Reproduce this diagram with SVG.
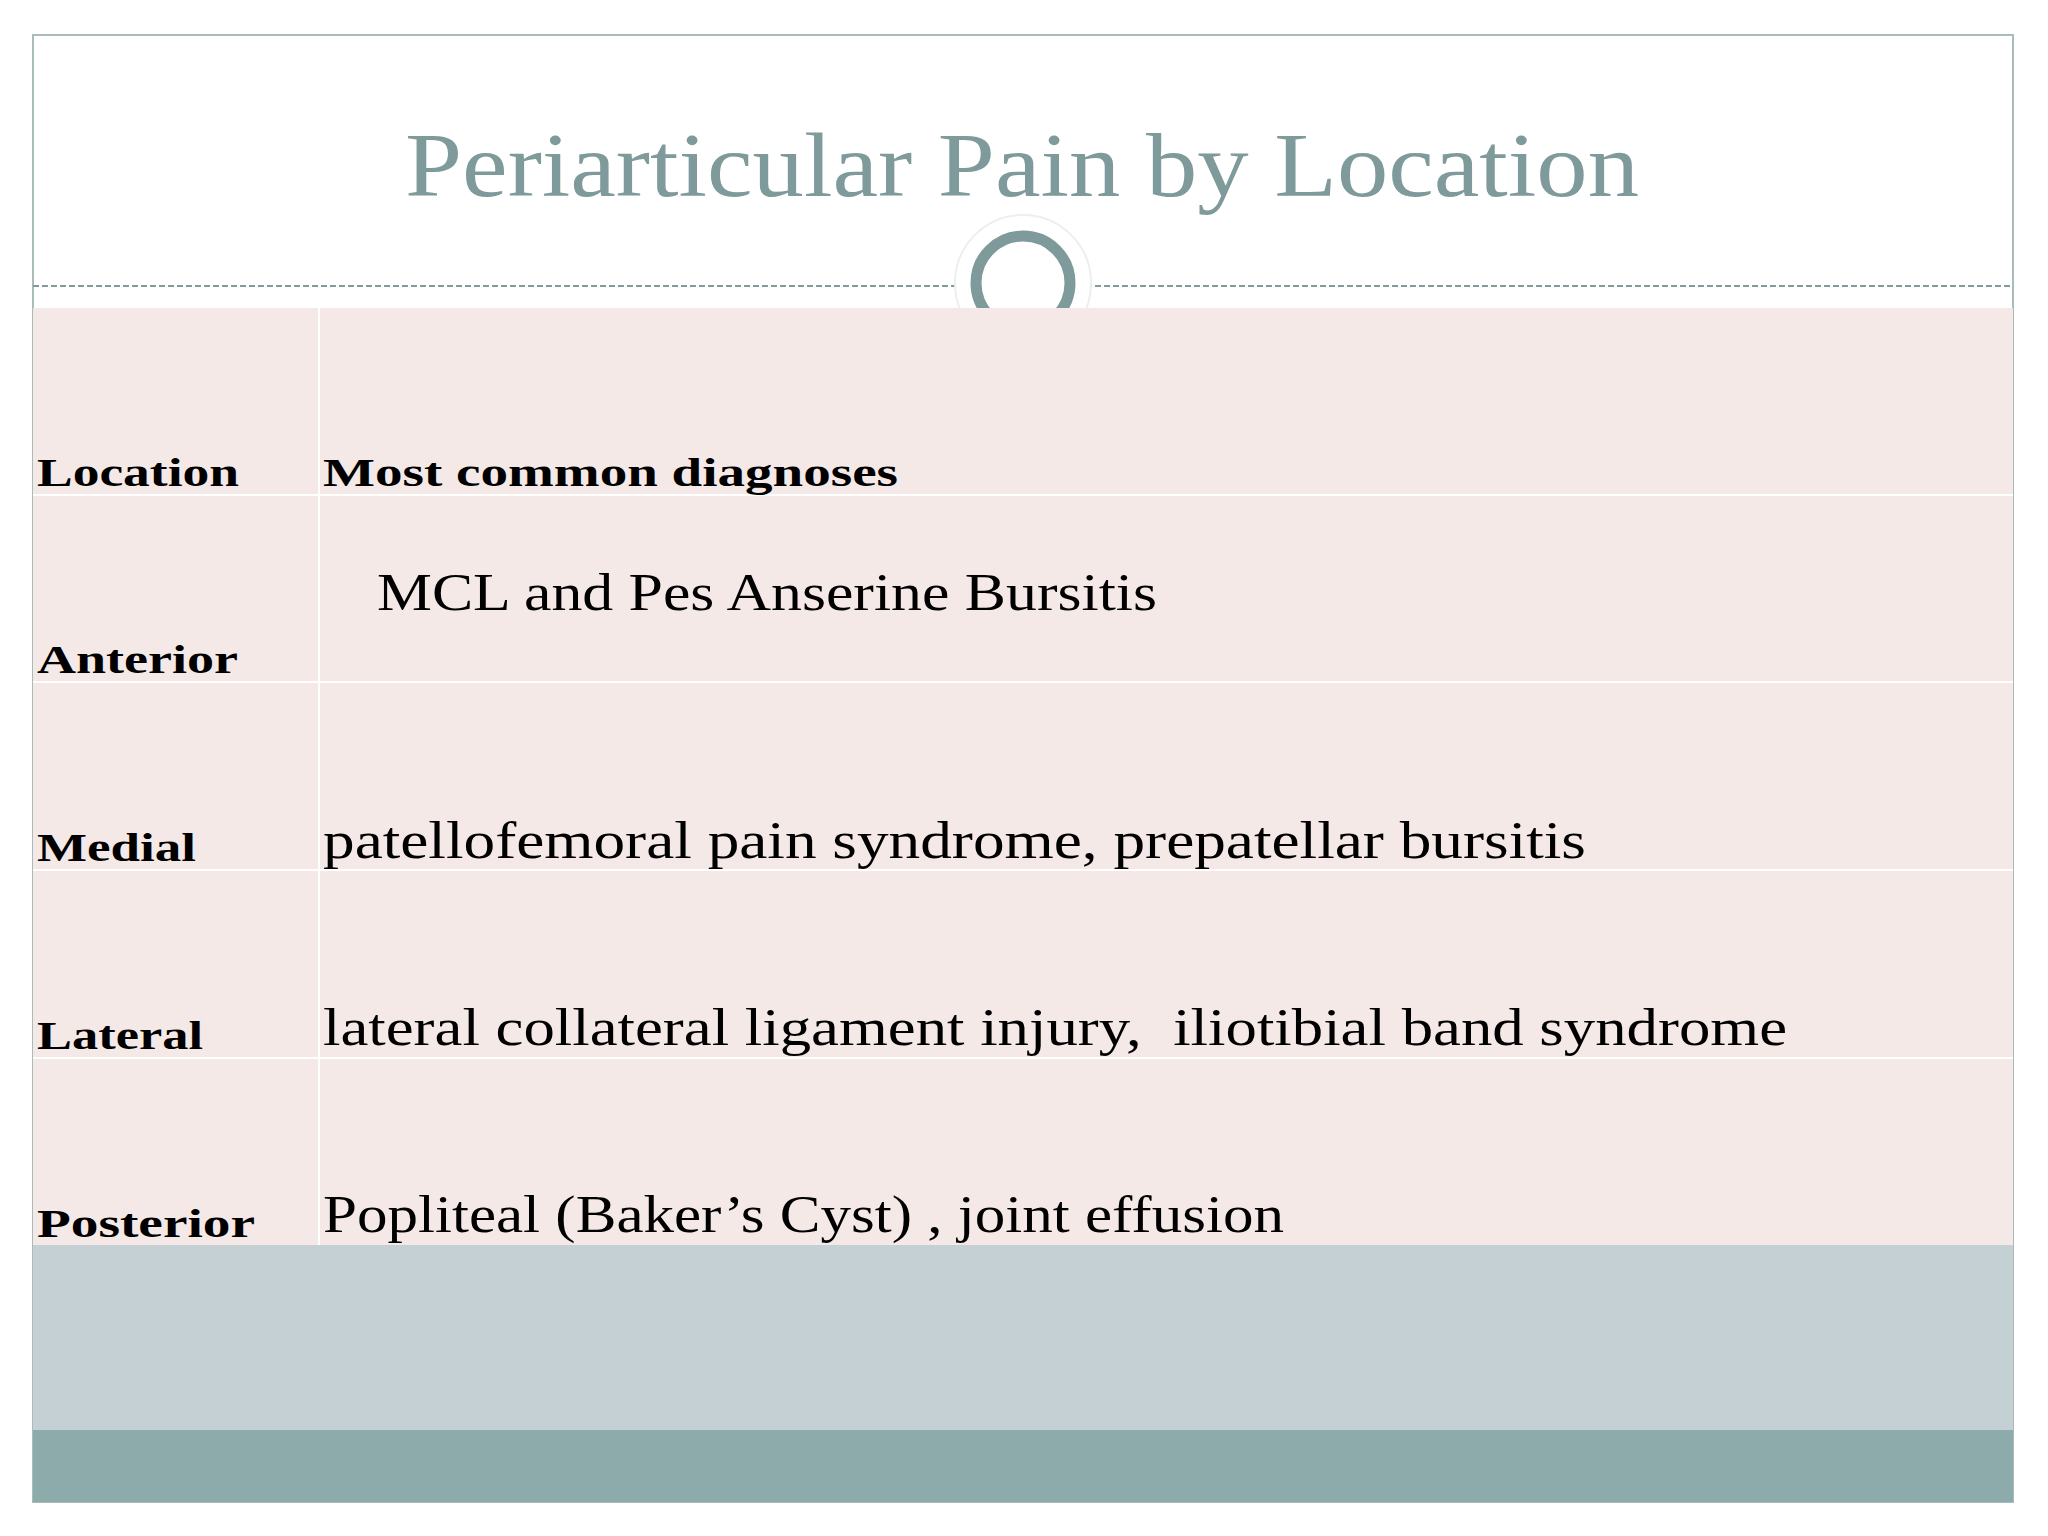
<svg xmlns="http://www.w3.org/2000/svg" width="2048" height="1536" viewBox="0 0 2048 1536">
<style>
.h{font-family:"Liberation Serif","DejaVu Serif",serif;font-weight:bold;font-size:40px;fill:#000}
.b{font-family:"Liberation Serif","DejaVu Serif",serif;font-size:52px;fill:#000}
.ln{stroke:#fff;stroke-width:2}
</style>
<rect width="2048" height="1536" fill="#fff"/>
<rect x="33" y="35" width="1980" height="1467" fill="none" stroke="#a9bcbc" stroke-width="2"/>
<text x="1022" y="196" text-anchor="middle" font-family="Liberation Serif,DejaVu Serif,serif" font-size="90" fill="#7f9a9a" textLength="1234" lengthAdjust="spacingAndGlyphs">Periarticular Pain by Location</text>
<line x1="33" y1="286" x2="2013" y2="286" stroke="#7f9a9a" stroke-width="2" stroke-dasharray="6,3"/>
<circle cx="1023" cy="283" r="68" fill="#fff" stroke="#eee" stroke-width="2"/>
<circle cx="1023" cy="283" r="47" fill="none" stroke="#7f9a9a" stroke-width="11"/>
<g id="table">
<rect x="33" y="308" width="1980" height="937" fill="#f4e9e6"/>
<line class="ln" x1="33" y1="495" x2="2013" y2="495"/>
<line class="ln" x1="33" y1="682" x2="2013" y2="682"/>
<line class="ln" x1="33" y1="870" x2="2013" y2="870"/>
<line class="ln" x1="33" y1="1058" x2="2013" y2="1058"/>
<line class="ln" x1="319" y1="308" x2="319" y2="1245"/>
</g>
<rect x="33" y="1245" width="1980" height="185" fill="#c5d0d5"/>
<rect x="33" y="1430" width="1980" height="72" fill="#8eabab"/>
<g id="texts">
<text class="h" x="37" y="486" textLength="202" lengthAdjust="spacingAndGlyphs">Location</text>
<text class="h" x="323" y="486" textLength="575" lengthAdjust="spacingAndGlyphs">Most common diagnoses</text>
<text class="h" x="37" y="673" textLength="201" lengthAdjust="spacingAndGlyphs">Anterior</text>
<text class="b" x="377" y="610" textLength="780" lengthAdjust="spacingAndGlyphs">MCL and Pes Anserine Bursitis</text>
<text class="h" x="37" y="861" textLength="159" lengthAdjust="spacingAndGlyphs">Medial</text>
<text class="b" x="323" y="858" textLength="1263" lengthAdjust="spacingAndGlyphs">patellofemoral pain syndrome, prepatellar bursitis</text>
<text class="h" x="37" y="1049" textLength="166" lengthAdjust="spacingAndGlyphs">Lateral</text>
<text class="b" x="323" y="1045" textLength="1464" lengthAdjust="spacingAndGlyphs">lateral collateral ligament injury,&#160; iliotibial band syndrome</text>
<text class="h" x="37" y="1237" textLength="218" lengthAdjust="spacingAndGlyphs">Posterior</text>
<text class="b" x="323" y="1232" textLength="961" lengthAdjust="spacingAndGlyphs">Popliteal (Baker’s Cyst) , joint effusion</text>
</g>
</svg>
